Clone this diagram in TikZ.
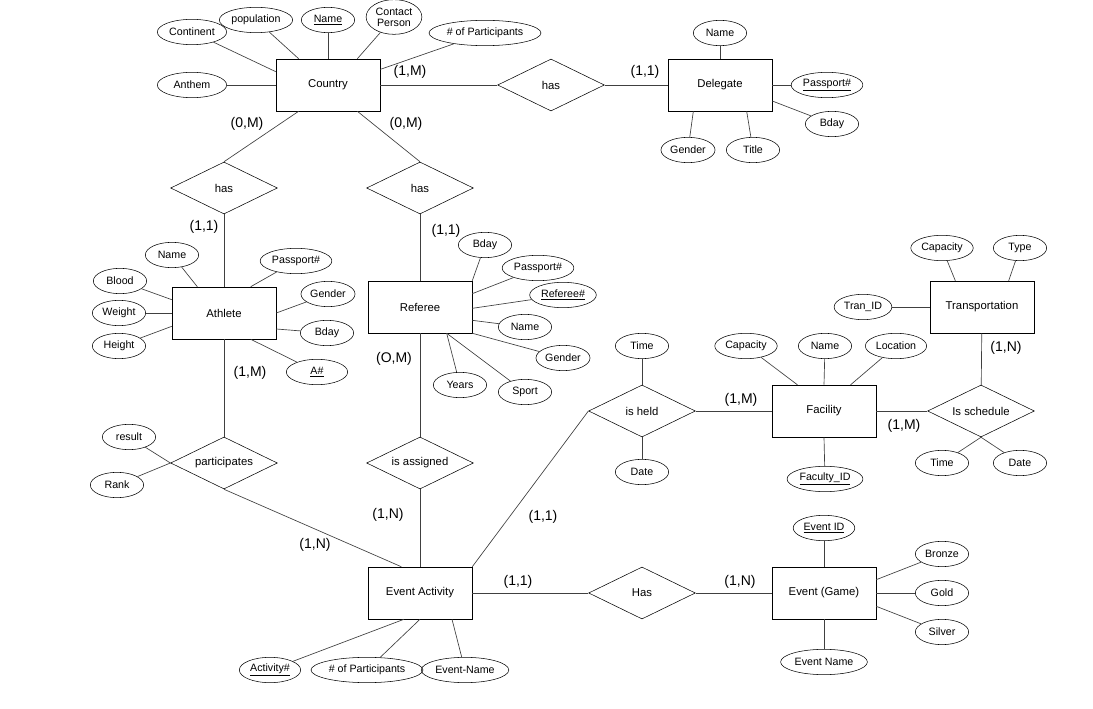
\documentclass[tikz,border=0pt]{standalone}
\usepackage{fontspec}
\setmainfont{Liberation Sans}
\usetikzlibrary{shapes.geometric}
\tikzset{
  ent/.style={draw, rectangle, minimum width=78pt, minimum height=39pt, font=\fontsize{8.5}{9}\selectfont},
  rel/.style={draw, diamond, aspect=2, minimum width=80pt, minimum height=39pt, inner sep=0pt, font=\fontsize{8.5}{9}\selectfont},
  att/.style={draw, ellipse, minimum height=19pt, inner xsep=1pt, inner ysep=0pt, font=\fontsize{8}{9}\selectfont},
  card/.style={font=\fontsize{10.5}{11}\selectfont},
  lnk/.style={draw=black!75, line width=0.5pt},
}
\begin{document}
\begin{tikzpicture}[x=0.75pt, y=-0.75pt]
  \useasboundingbox (0,0) rectangle (1093,709);

  % entities
  \node[ent] (country) at (328,85) {Country};
  \node[ent] (delegate) at (720,85) {Delegate};
  \node[ent] (athlete) at (224,313) {Athlete};
  \node[ent] (referee) at (420,307) {Referee};
  \node[ent] (activity) at (420,593) {Event Activity};
  \node[ent] (facility) at (824,411) {Facility};
  \node[ent] (transport) at (982,307) {Transportation};
  \node[ent] (game) at (824,593) {Event (Game)};

  % relationships
  \node[rel] (hasdel) at (551,85) {has};
  \node[rel] (hasath) at (224,188) {has};
  \node[rel] (hasref) at (420,188) {has};
  \node[rel] (partic) at (224,463) {participates};
  \node[rel] (assign) at (420,463) {is assigned};
  \node[rel] (held) at (642,411) {is held};
  \node[rel] (sched) at (981,411) {Is schedule};
  \node[rel] (hasgame) at (642,593) {Has};

  % country attributes
  \node[att, minimum width=52pt] (c_cont) at (192,32) {Continent};
  \node[att, minimum width=52pt] (c_pop) at (256,20) {population};
  \node[att, minimum width=40pt] (c_name) at (328,20) {\underline{Name}};
  \node[att, minimum width=40pt, minimum height=26pt, align=center, font=\fontsize{8}{8.5}\selectfont] (c_contact) at (394,17) {Contact\\Person};
  \node[att, minimum width=74pt] (c_part) at (485,33) {\# of Participants};
  \node[att, minimum width=52pt] (c_anthem) at (192,85) {Anthem};
  \draw[lnk] (c_cont) -- ([yshift=10]country.west);
  \draw[lnk] (c_pop) -- ([xshift=-22]country.north);
  \draw[lnk] (c_name) -- (country.north);
  \draw[lnk] (c_contact) -- ([xshift=22]country.north);
  \draw[lnk] (c_part) -- ([yshift=-8]country.north east);
  \draw[lnk] (c_anthem) -- (country.west);

  % delegate attributes
  \node[att, minimum width=40pt] (d_name) at (720,33) {Name};
  \node[att, minimum width=52pt] (d_pass) at (827,85) {\underline{Passport\#}};
  \node[att, minimum width=40pt] (d_bday) at (832,124) {Bday};
  \node[att, minimum width=40pt] (d_gender) at (688,150) {Gender};
  \node[att, minimum width=40pt] (d_title) at (753,150) {Title};
  \draw[lnk] (d_name) -- (delegate.north);
  \draw[lnk] (d_pass) -- (delegate.east);
  \draw[lnk] (d_bday) -- ([yshift=-12]delegate.east);
  \draw[lnk] (d_gender) -- ([xshift=-20]delegate.south);
  \draw[lnk] (d_title) -- ([xshift=20]delegate.south);

  % athlete attributes
  \node[att, minimum width=40pt] (a_name) at (172,255) {Name};
  \node[att, minimum width=50pt] (a_pass) at (296,261) {Passport\#};
  \node[att, minimum width=40pt] (a_blood) at (120,281) {Blood};
  \node[att, minimum width=40pt] (a_weight) at (119,313) {Weight};
  \node[att, minimum width=40pt] (a_height) at (119,346) {Height};
  \node[att, minimum width=40pt] (a_gender) at (328,294) {Gender};
  \node[att, minimum width=40pt] (a_bday) at (327,333) {Bday};
  \node[att, minimum width=46pt] (a_num) at (317,372) {\underline{A\#}};
  \draw[lnk] (a_name) -- ([xshift=-20]athlete.north);
  \draw[lnk] (a_pass) -- ([xshift=20]athlete.north);
  \draw[lnk] (a_blood) -- ([yshift=10]athlete.west);
  \draw[lnk] (a_weight) -- (athlete.west);
  \draw[lnk] (a_height) -- ([yshift=-10]athlete.west);
  \draw[lnk] (a_gender) -- (athlete.east);
  \draw[lnk] (a_bday) -- ([yshift=-12]athlete.east);
  \draw[lnk] (a_num) -- ([xshift=20]athlete.south);

  % referee attributes
  \node[att, minimum width=40pt] (r_bday) at (485,245) {Bday};
  \node[att, minimum width=50pt] (r_pass) at (538,268) {Passport\#};
  \node[att, minimum width=50pt] (r_num) at (563,295) {\underline{Referee\#}};
  \node[att, minimum width=40pt] (r_name) at (525,327) {Name};
  \node[att, minimum width=40pt] (r_gender) at (563,358) {Gender};
  \node[att, minimum width=40pt] (r_years) at (460,385) {Years};
  \node[att, minimum width=40pt] (r_sport) at (525,392) {Sport};
  \draw[lnk] (r_bday) -- (referee.north east);
  \draw[lnk] (r_pass) -- ([yshift=10]referee.east);
  \draw[lnk] (r_num) -- ([yshift=-1]referee.east);
  \draw[lnk] (r_name) -- ([yshift=-10]referee.east);
  \draw[lnk] (r_gender) -- (referee.south east);
  \draw[lnk] (r_years) -- ([xshift=20]referee.south);
  \draw[lnk] (r_sport) -- ([xshift=20]referee.south);

  % participates attributes
  \node[att, minimum width=40pt] (p_result) at (129,437) {result};
  \node[att, minimum width=40pt] (p_rank) at (117,485) {Rank};
  \draw[lnk] (p_result) -- (partic.west);
  \draw[lnk] (p_rank) -- (partic.west);

  % is held attributes
  \node[att, minimum width=40pt] (h_time) at (642,346) {Time};
  \node[att, minimum width=40pt] (h_date) at (642,472) {Date};
  \draw[lnk] (h_time) -- (held.north);
  \draw[lnk] (h_date) -- (held.south);

  % facility attributes
  \node[att, minimum width=46pt] (f_cap) at (746,346) {Capacity};
  \node[att, minimum width=40pt] (f_name) at (825,346) {Name};
  \node[att, minimum width=46pt] (f_loc) at (896,346) {Location};
  \node[att, minimum width=50pt] (f_id) at (825,479) {\underline{Faculty\_ID}};
  \draw[lnk] (f_cap) -- ([xshift=-20]facility.north);
  \draw[lnk] (f_name) -- (facility.north);
  \draw[lnk] (f_loc) -- ([xshift=20]facility.north);
  \draw[lnk] (f_id) -- (facility.south);

  % transportation attributes
  \node[att, minimum width=46pt] (t_cap) at (942,248) {Capacity};
  \node[att, minimum width=40pt] (t_type) at (1020,248) {Type};
  \node[att, minimum width=40pt] (t_id) at (863,307) {Tran\_ID};
  \draw[lnk] (t_cap) -- ([xshift=-20]transport.north);
  \draw[lnk] (t_type) -- ([xshift=20]transport.north);
  \draw[lnk] (t_id) -- (transport.west);

  % is schedule attributes
  \node[att, minimum width=40pt] (s_time) at (942,463) {Time};
  \node[att, minimum width=40pt] (s_date) at (1020,463) {Date};
  \draw[lnk] (s_time) -- (sched.south);
  \draw[lnk] (s_date) -- (sched.south);

  % event (game) attributes
  \node[att, minimum width=46pt] (g_id) at (824,528) {\underline{Event ID}};
  \node[att, minimum width=40pt] (g_bronze) at (942,554) {Bronze};
  \node[att, minimum width=40pt] (g_gold) at (942,593) {Gold};
  \node[att, minimum width=40pt] (g_silver) at (942,632) {Silver};
  \node[att, minimum width=54pt] (g_name) at (824,662) {Event Name};
  \draw[lnk] (g_id) -- (game.north);
  \draw[lnk] (g_bronze) -- ([yshift=10]game.east);
  \draw[lnk] (g_gold) -- (game.east);
  \draw[lnk] (g_silver) -- ([yshift=-10]game.east);
  \draw[lnk] (g_name) -- (game.south);

  % event activity attributes
  \node[att, minimum width=46pt] (e_num) at (270,670) {\underline{Activity\#}};
  \node[att, minimum width=68pt] (e_part) at (367,670) {\# of Participants};
  \node[att, minimum width=50pt] (e_name) at (465,670) {Event-Name};
  \draw[lnk] (e_num) -- ([xshift=-12]activity.south);
  \draw[lnk] (e_part) -- (activity.south);
  \draw[lnk] (e_name) -- ([xshift=24]activity.south);

  % relationship links
  \draw[lnk] (country) -- (hasdel) -- (delegate);
  \draw[lnk] ([xshift=-22]country.south) -- (hasath.north);
  \draw[lnk] (hasath) -- (athlete);
  \draw[lnk] ([xshift=22]country.south) -- (hasref.north);
  \draw[lnk] (hasref) -- (referee);
  \draw[lnk] (athlete) -- (partic);
  \draw[lnk] (partic.south) -- ([xshift=-14]activity.north);
  \draw[lnk] (referee) -- (assign) -- (activity);
  \draw[lnk] (activity.north east) -- (held.west);
  \draw[lnk] (held) -- (facility);
  \draw[lnk] (facility) -- (sched);
  \draw[lnk] (sched) -- (transport);
  \draw[lnk] (activity) -- (hasgame) -- (game);

  % cardinalities
  \node[card] (k1) at (410,72) {(1,M)};
  \node[card] (k2) at (645,72) {(1,1)};
  \node[card] (k3) at (247,124) {(0,M)};
  \node[card] (k4) at (406,124) {(0,M)};
  \node[card] (k5) at (204,227) {(1,1)};
  \node[card] (k6) at (446,231) {(1,1)};
  \node[card] (k7) at (250,373) {(1,M)};
  \node[card] (k8) at (394,359) {(O,M)};
  \node[card] (k9) at (388,515) {(1,N)};
  \node[card] (k10) at (315,545) {(1,N)};
  \node[card] (k11) at (543,517) {(1,1)};
  \node[card] (k12) at (741,400) {(1,M)};
  \node[card] (k13) at (1006,348) {(1,N)};
  \node[card] (k14) at (904,426) {(1,M)};
  \node[card] (k15) at (518,582) {(1,1)};
  \node[card] (k16) at (740,582) {(1,N)};
\end{tikzpicture}
\end{document}
